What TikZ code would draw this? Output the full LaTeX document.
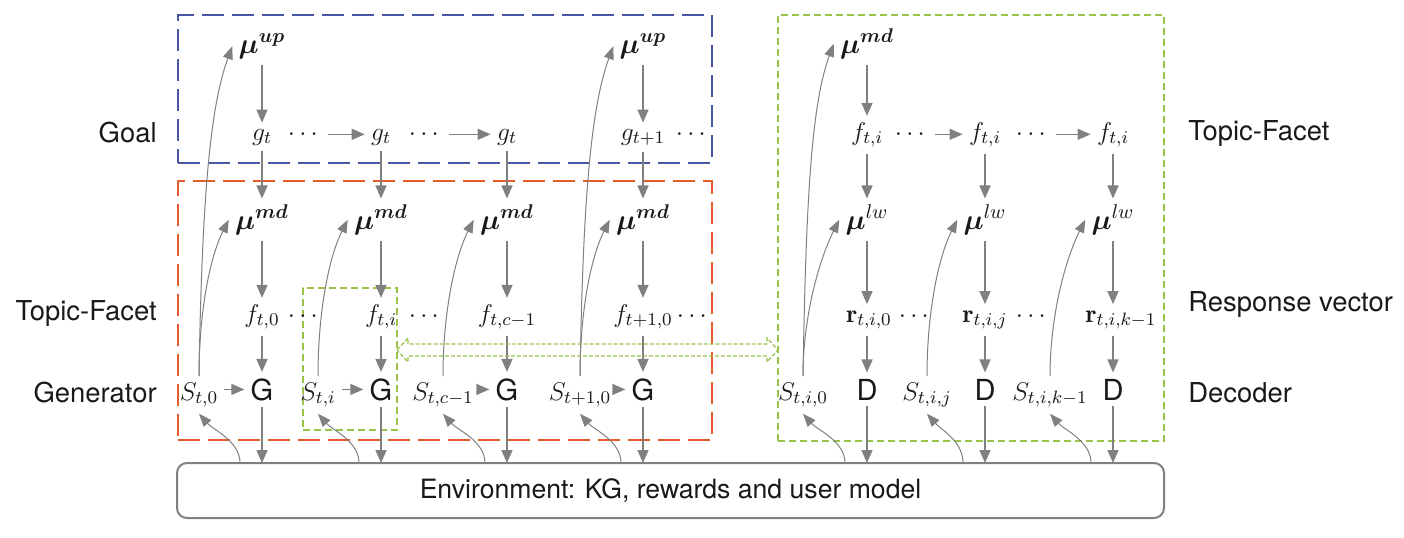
\RequirePackage{fix-cm}
\documentclass[tikz,border=0pt]{standalone}
\usepackage{amsmath}
\usepackage{fontspec}
\setsansfont{TeX Gyre Heros}
\usetikzlibrary{arrows.meta,calc}
\definecolor{gboxblue}{RGB}{72,86,166}
\definecolor{gboxorange}{RGB}{228,92,42}
\definecolor{gboxgreen}{RGB}{152,194,72}
\definecolor{arrgray}{RGB}{128,128,128}
\definecolor{txtblack}{RGB}{25,25,25}
\newcommand{\mymu}{\boldsymbol{\mu}}
\begin{document}
\begin{tikzpicture}[x=0.5pt,y=-0.5pt,
  lab/.style={font=\sffamily\fontsize{13.7}{15}\selectfont, text=txtblack, inner sep=0pt},
  mth/.style={font=\fontsize{12.8}{15}\selectfont, inner sep=3pt, anchor=base, text=txtblack},
  muth/.style={font=\fontsize{14.2}{16}\selectfont, inner sep=3pt, anchor=base, text=txtblack},
  gd/.style={font=\sffamily\fontsize{14.5}{16}\selectfont, inner sep=3pt, anchor=base, text=txtblack},
  arr/.style={draw=arrgray, line width=0.75pt, -{Triangle[length=6.5pt,width=5.5pt]}},
  curv/.style={draw=arrgray, line width=0.5pt, -{Triangle[length=6.5pt,width=5pt]}},
  dbox/.style={draw, line width=1.35pt, dash pattern=on 11pt off 4pt, inner sep=0pt, outer sep=0pt},
  gbox/.style={draw=gboxgreen, line width=1.15pt, dash pattern=on 3.5pt off 2pt, inner sep=0pt, outer sep=0pt},
  envbox/.style={draw=arrgray, line width=1pt, rounded corners=5pt, inner sep=0pt, outer sep=0pt,
    font=\sffamily\fontsize{13.3}{15}\selectfont, text=txtblack},
  dblarr/.style={draw=gboxgreen, line width=0.6pt, dash pattern=on 2pt off 1pt}
]
\useasboundingbox (0,0) rectangle (1404,537);

% boxes
\node[dbox, draw=gboxblue, minimum width=267pt, minimum height=74pt] (goalbox) at (445,89) {};
\node[dbox, draw=gboxorange, minimum width=267pt, minimum height=129.5pt] (facetbox) at (445,310.5) {};
\node[gbox, minimum width=193pt, minimum height=213pt] (rbox) at (971,228) {};
\node[gbox, minimum width=47pt, minimum height=71pt] (sbox) at (350,359) {};
\node[envbox, minimum width=493.5pt, minimum height=27.5pt] (env) at (670.5,490.5) {Environment: KG, rewards and user model};

% side labels
\node[lab, anchor=east] (lgoal) at (157,133) {Goal};
\node[lab, anchor=east] (ltf) at (157,313) {Topic-Facet};
\node[lab, anchor=east] (lgen) at (157,393) {Generator};
\node[lab, anchor=west] (rtf) at (1188,133) {Topic-Facet};
\node[lab, anchor=west] (rrv) at (1188,304) {Response vector};
\node[lab, anchor=west] (rdec) at (1188,393) {Decoder};

% left part
\node[muth] (muup1) at (262,53) {$\mymu^{\boldsymbol{up}}$};
\node[muth] (muup4) at (643,53) {$\mymu^{\boldsymbol{up}}$};
\node[mth] (g1) at (262,140) {$g_t$};
\node[mth] (dg1) at (305,140) {$\cdots$};
\node[mth] (g2) at (381,140) {$g_t$};
\node[mth] (dg2) at (426,140) {$\cdots$};
\node[mth] (g3) at (507,140) {$g_t$};
\node[mth] (g4) at (643,140) {$g_{t+1}$};
\node[mth] (dg4) at (693,140) {$\cdots$};
\node[muth] (mumd1) at (262,229) {$\mymu^{\boldsymbol{md}}$};
\node[muth] (mumd2) at (381,229) {$\mymu^{\boldsymbol{md}}$};
\node[muth] (mumd3) at (507,229) {$\mymu^{\boldsymbol{md}}$};
\node[muth] (mumd4) at (643,229) {$\mymu^{\boldsymbol{md}}$};
\node[mth] (f1) at (262,322) {$f_{t,0}$};
\node[mth] (df1) at (305,322) {$\cdots$};
\node[mth] (f2) at (381,322) {$f_{t,i}$};
\node[mth] (df2) at (426,322) {$\cdots$};
\node[mth] (f3) at (507,322) {$f_{t,c-1}$};
\node[mth] (f4) at (643,322) {$f_{t+1,0}$};
\node[mth] (df4) at (694,322) {$\cdots$};
\node[mth] (S1) at (199,400) {$S_{t,0}$};
\node[mth] (S2) at (318,400) {$S_{t,i}$};
\node[mth] (S3) at (443,400) {$S_{t,c-1}$};
\node[mth] (S4) at (580,400) {$S_{t+1,0}$};
\node[gd] (G1) at (262,400) {G};
\node[gd] (G2) at (381,400) {G};
\node[gd] (G3) at (507,400) {G};
\node[gd] (G4) at (643,400) {G};

% right part
\node[muth] (mumdR) at (867,53) {$\mymu^{\boldsymbol{md}}$};
\node[mth] (fR1) at (867,140) {$f_{t,i}$};
\node[mth] (dfR1) at (912,140) {$\cdots$};
\node[mth] (fR2) at (985,140) {$f_{t,i}$};
\node[mth] (dfR2) at (1033,140) {$\cdots$};
\node[mth] (fR3) at (1113,140) {$f_{t,i}$};
\node[muth] (mulw1) at (867,229) {$\mymu^{lw}$};
\node[muth] (mulw2) at (985,229) {$\mymu^{lw}$};
\node[muth] (mulw3) at (1113,229) {$\mymu^{lw}$};
\node[mth] (rr1) at (869,322) {$\mathbf{r}_{t,i,0}$};
\node[mth] (dr1) at (916,322) {$\cdots$};
\node[mth] (rr2) at (985,322) {$\mathbf{r}_{t,i,j}$};
\node[mth] (dr2) at (1033,322) {$\cdots$};
\node[mth] (rr3) at (1121,322) {$\mathbf{r}_{t,i,k-1}$};
\node[mth] (SR1) at (803,400) {$S_{t,i,0}$};
\node[mth] (SR2) at (927,400) {$S_{t,i,j}$};
\node[mth] (SR3) at (1050,400) {$S_{t,i,k-1}$};
\node[gd] (D1) at (867,400) {D};
\node[gd] (D2) at (985,400) {D};
\node[gd] (D3) at (1113,400) {D};

% vertical arrows left
\draw[arr] (muup1.south) -- (g1.north);
\draw[arr] (muup4.south) -- (g4.north);
\foreach \i in {1,2,3,4}{
  \draw[arr] (g\i.south) -- (mumd\i.north);
  \draw[arr] (mumd\i.south) -- (f\i.north);
  \draw[arr] (f\i.south) -- (G\i.north);
  \draw[arr] (G\i.south) -- (G\i.south |- env.north);
  \draw[arr] (G\i.west -| S\i.east) -- (G\i.west);
}
% vertical arrows right
\draw[arr] (mumdR.south) -- (fR1.north);
\foreach \i in {1,2,3}{
  \draw[arr] (fR\i.south) -- (mulw\i.north);
  \draw[arr] (mulw\i.south) -- (mulw\i.south |- rr\i.north);
  \draw[arr] (rr\i.south -| D\i.north) -- (D\i.north);
  \draw[arr] (D\i.south) -- (D\i.south |- env.north);
}
% horizontal arrows
\draw[arr] (dg1.east) -- (dg1.east -| g2.west);
\draw[arr] (dg2.east) -- (dg2.east -| g3.west);
\draw[arr] (dfR1.east) -- (dfR1.east -| fR2.west);
\draw[arr] (dfR2.east) -- (dfR2.east -| fR3.west);

% environment to S curves
\foreach \s/\g in {S1/G1,S2/G2,S3/G3,S4/G4,SR1/D1,SR2/D2,SR3/D3}{
  \draw[curv] ($(\g.south |- env.north)+(-22,0)$) .. controls +(0,-22) and +(14,16) .. (\s.south);
}
% S to mu curves
\foreach \s/\m in {S1/mumd1,S2/mumd2,S3/mumd3,S4/mumd4,SR1/mulw1,SR2/mulw2,SR3/mulw3}{
  \draw[curv] (\s.north) .. controls +(0,-60) and +(-20,40) .. (\m.west);
}
\draw[curv] (S1.north) .. controls +(3,-180) and +(-22,60) .. (muup1.west);
\draw[curv] (S4.north) .. controls +(3,-180) and +(-22,60) .. (muup4.west);
\draw[curv] (SR1.north) .. controls +(3,-180) and +(-22,60) .. (mumdR.west);

% double arrow between the green boxes
\coordinate (dy) at (0,350);
\draw[dblarr] (sbox.east |- dy) -- ++(11,-12) -- ++(0,6) -- ($(rbox.west |- dy)+(-11,-6)$) -- ++(0,-6)
  -- (rbox.west |- dy) -- ++(-11,12) -- ++(0,-6) -- ($(sbox.east |- dy)+(11,6)$) -- ++(0,6) -- cycle;
\end{tikzpicture}
\end{document}
